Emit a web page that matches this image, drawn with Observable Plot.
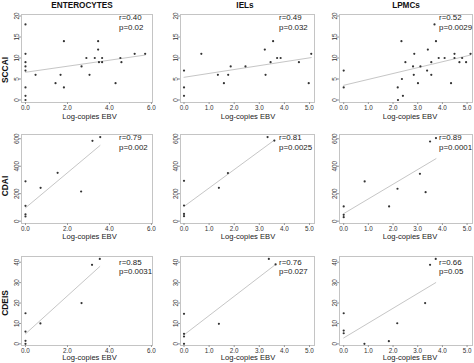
<!DOCTYPE html>
<html><head><meta charset="utf-8">
<script src="https://cdn.jsdelivr.net/npm/d3@7"></script>
<script src="https://cdn.jsdelivr.net/npm/@observablehq/plot@0.6"></script>
<style>
body{margin:0;background:#fff;}
#root{position:relative;width:474px;height:363px;overflow:hidden;font-family:"Liberation Sans",Arial,sans-serif;background:#fff;}
#root svg{position:absolute;overflow:visible;}
.lab{position:absolute;white-space:nowrap;line-height:1;}
.title{font-weight:bold;font-size:8.2px;color:#111;transform:translate(-50%,-50%);}
.ylab{font-weight:bold;font-size:8.4px;color:#111;transform:translate(-50%,-50%) rotate(-90deg);}
.xlab{font-size:7.6px;color:#222;transform:translate(-50%,-50%);}
.stat{font-size:7.9px;color:#1a1a1a;transform:translateY(-50%);}
</style>
</head><body><div id="root"></div>
<script>
const columns = ["ENTEROCYTES", "IELs", "LPMCs"];
const scores = ["SCCAI", "CDAI", "CDEIS"];
const xLabel = "Log-copies EBV";
const xTicksEnt = [0, 2, 4, 6];
const xTicksOther = [0, 1, 2, 3, 4, 5];
const yTicksSccai = [0, 5, 10, 15, 20];
const yTicksCdai = [0, 200, 400, 600];
const yTicksCdeis = [0, 10, 20, 30, 40];

// SCCAI row
const entSccaiX = [0,0,0,0,0,0,0,0,0.48,1.43,1.67,1.83,1.83,2.67,2.9,3.05,3.3,3.46,3.46,3.5,3.65,3.65,4.29,4.52,4.57,5.2,5.7];
const entSccaiY = [18,11,9,8,7,3,1,0,6,4,6,14,3,8,10,6,10,14,12,9,10,9,4,10,9,11,11];
const entSccaiFitX = [0, 5.7];
const entSccaiFitY = [6.6, 10.7];
const ielSccaiX = [0,0,0,0.69,1.35,1.59,1.76,1.86,2.45,3.22,3.25,3.45,3.55,3.71,3.85,4.58,4.97,5.07];
const ielSccaiY = [7,3,1,11,6,4,6,8,8,12,6,9,14,10,10,9,4,11];
const ielSccaiFitX = [0, 5.07];
const ielSccaiFitY = [5.4, 10.1];
const lpmSccaiX = [0,0,2.19,2.2,2.34,2.36,2.4,2.5,2.81,2.84,2.86,3.01,3.11,3.38,3.41,3.55,3.55,3.68,3.74,3.85,4.09,4.35,4.49,4.49,4.69,4.8,4.96,5.14];
const lpmSccaiY = [7,3,3,0,14,5,1,9,8,6,11,4,8,7,12,9,6,18,14,10,10,4,11,10,9,10,9,11];
const lpmSccaiFitX = [0, 5.14];
const lpmSccaiFitY = [3.5, 10.7];

// CDAI row
const entCdaiX = [0,0,0,0,0.72,1.53,2.65,3.19,3.56];
const entCdaiY = [290,112,49,34,243,352,216,585,612];
const entCdaiFitX = [0, 3.55];
const entCdaiFitY = [97, 551];
const ielCdaiX = [0,0,0,0,1.39,1.75,3.33,3.6];
const ielCdaiY = [294,114,53,36,243,350,612,587];
const ielCdaiFitX = [0, 3.6];
const ielCdaiFitY = [107, 590];
const lpmCdaiX = [0,0,0,0.85,1.84,2.18,3.09,3.32,3.5,3.74];
const lpmCdaiY = [107,46,29,289,107,236,345,211,580,605];
const lpmCdaiFitX = [0, 3.74];
const lpmCdaiFitY = [55, 455];

// CDEIS row
const entCdeisX = [0,0,0,0,0.71,2.67,3.17,3.54];
const entCdeisY = [15,6,1.5,0,10,20,38.7,41.6];
const entCdeisFitX = [0, 3.54];
const entCdeisFitY = [4.9, 37.9];
const ielCdeisX = [0,0,0,0,1.39,3.38,3.65];
const ielCdeisY = [14.7,4.9,3.6,0,9.8,41.6,38.9];
const ielCdeisFitX = [0, 3.65];
const ielCdeisFitY = [4.4, 38.9];
const lpmCdeisX = [0,0,0,0.84,1.83,2.17,3.3,3.5,3.73];
const lpmCdeisY = [15,6.5,5.2,0,1.3,10.1,20,38.7,41.6];
const lpmCdeisFitX = [0, 3.73];
const lpmCdeisFitY = [2.9, 30];

const rValues = [["r=0.40","r=0.49","r=0.52"],["r=0.79","r=0.81","r=0.89"],["r=0.85","r=0.76","r=0.66"]];
const pValues = [["p=0.02","p=0.032","p=0.0029"],["p=0.002","p=0.0025","p=0.0001"],["p=0.0031","p=0.027","p=0.05"]];

const panelData = [
  [[entSccaiX,entSccaiY,entSccaiFitX,entSccaiFitY],[ielSccaiX,ielSccaiY,ielSccaiFitX,ielSccaiFitY],[lpmSccaiX,lpmSccaiY,lpmSccaiFitX,lpmSccaiFitY]],
  [[entCdaiX,entCdaiY,entCdaiFitX,entCdaiFitY],[ielCdaiX,ielCdaiY,ielCdaiFitX,ielCdaiFitY],[lpmCdaiX,lpmCdaiY,lpmCdaiFitX,lpmCdaiFitY]],
  [[entCdeisX,entCdeisY,entCdeisFitX,entCdeisFitY],[ielCdeisX,ielCdeisY,ielCdeisFitX,ielCdeisFitY],[lpmCdeisX,lpmCdeisY,lpmCdeisFitX,lpmCdeisFitY]]
];

// layout (styling only)
const colFrames = [[21,152],[180,314],[339,472]];
const rowFrames = [[14,102],[134,223],[256,345]];
const xDomains = [[-0.19,6.05],[-0.14,5.2],[-0.17,5.22]];
const yDomains = [[-0.6,20.36],[-17,631],[-0.8,42.8]];
const xTicks = [xTicksEnt, xTicksOther, xTicksOther];
const yTicks = [yTicksSccai, yTicksCdai, yTicksCdeis];
const titleX = [82, 245, 406];
const xLabX = [89.5, 248, 410];
const xLabY = [117, 236.7, 357.7];
const yLabY = [70, 186, 303];
const statX = [119, 279, 439];
const statY = [[18,27.5],[138,148],[263,272]];

const root = document.getElementById("root");
const mL = 22, mR = 2, mT = 3, mB = 22;

for (let r = 0; r < 3; r++) {
  for (let c = 0; c < 3; c++) {
    const [xs, ys, fx, fy] = panelData[r][c];
    const pts = xs.map((x, i) => ({x, y: ys[i]}));
    const fit = fx.map((x, i) => ({x, y: fy[i]}));
    const [L, R] = colFrames[c], [T, B] = rowFrames[r];
    const svg = Plot.plot({
      width: R - L + mL + mR, height: B - T + mT + mB,
      marginLeft: mL, marginRight: mR, marginTop: mT, marginBottom: mB,
      style: {fontFamily: "Liberation Sans, Arial, sans-serif", fontSize: "6.3px", color: "#333", background: "transparent"},
      x: {domain: xDomains[c]},
      y: {domain: yDomains[r]},
      marks: [
        Plot.frame({stroke: "#c4c4c4"}),
        Plot.axisX({ticks: xTicks[c], tickSize: 2, tickPadding: 1, label: null, stroke: "#999"}),
        Plot.axisY({ticks: yTicks[r], tickSize: 2, tickPadding: 0.5, tickRotate: -90, label: null, stroke: "#999"}),
        Plot.line(fit, {x: "x", y: "y", stroke: "#c6c6c6", strokeWidth: 1}),
        Plot.dot(pts, {x: "x", y: "y", r: 1.1, fill: "#333", stroke: "none"})
      ]
    });
    svg.style.left = (L - mL) + "px";
    svg.style.top = (T - mT) + "px";
    root.append(svg);

    const xl = document.createElement("div");
    xl.className = "lab xlab"; xl.textContent = xLabel;
    xl.style.left = xLabX[c] + "px"; xl.style.top = xLabY[r] + "px";
    root.append(xl);

    const rs = document.createElement("div");
    rs.className = "lab stat"; rs.textContent = rValues[r][c];
    rs.style.left = statX[c] + "px"; rs.style.top = statY[r][0] + "px";
    root.append(rs);
    const ps = document.createElement("div");
    ps.className = "lab stat"; ps.textContent = pValues[r][c];
    ps.style.left = statX[c] + "px"; ps.style.top = statY[r][1] + "px";
    root.append(ps);
  }
}
columns.forEach((t, c) => {
  const d = document.createElement("div");
  d.className = "lab title"; d.textContent = t;
  d.style.left = titleX[c] + "px"; d.style.top = "5.5px";
  root.append(d);
});
scores.forEach((t, r) => {
  const d = document.createElement("div");
  d.className = "lab ylab"; d.textContent = t;
  d.style.left = "5px"; d.style.top = yLabY[r] + "px";
  root.append(d);
});
</script>
</body></html>
